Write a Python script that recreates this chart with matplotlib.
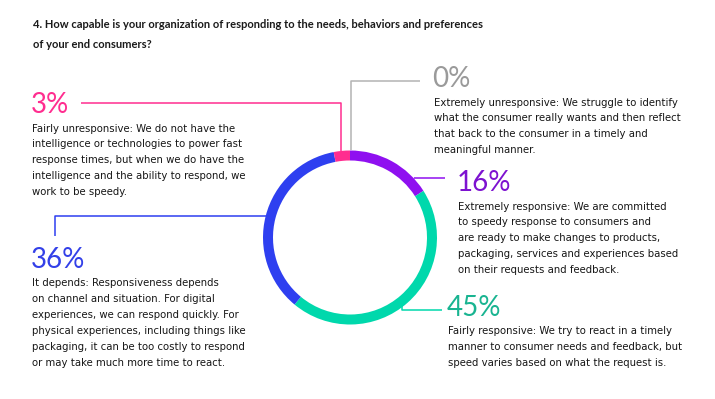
import matplotlib.pyplot as plt

W, H = 715, 399

title = ["4. How capable is your organization of responding to the needs, behaviors and preferences",
         "of your end consumers?"]

# answers, clockwise from 12 o'clock
answers = ["Extremely unresponsive", "Extremely responsive", "Fairly responsive",
           "It depends", "Fairly unresponsive"]
shares = [0, 16, 45, 36, 3]
ring_colors = ["#b3b3b3", "#8f10f0", "#00d8ac", "#2e3ff0", "#ff2d8f"]
pct_colors = ["#9a9a9a", "#7d12d0", "#19b491", "#3340e8", "#ff2d8f"]

descriptions = [
    ["Extremely unresponsive: We struggle to identify",
     "what the consumer really wants and then reflect",
     "that back to the consumer in a timely and",
     "meaningful manner."],
    ["Extremely responsive: We are committed",
     "to speedy response to consumers and",
     "are ready to make changes to products,",
     "packaging, services and experiences based",
     "on their requests and feedback."],
    ["Fairly responsive: We try to react in a timely",
     "manner to consumer needs and feedback, but",
     "speed varies based on what the request is."],
    ["It depends: Responsiveness depends",
     "on channel and situation. For digital",
     "experiences, we can respond quickly. For",
     "physical experiences, including things like",
     "packaging, it can be too costly to respond",
     "or may take much more time to react."],
    ["Fairly unresponsive: We do not have the",
     "intelligence or technologies to power fast",
     "response times, but when we do have the",
     "intelligence and the ability to respond, we",
     "work to be speedy."],
]

# label placement in pixels (x, y of the percentage, from the top)
label_pos = [(432, 79), (457, 183), (447, 308), (31, 260), (31, 105)]
# callout paths in pixels
callouts = [
    [(350.5, 150), (350.5, 81), (420, 81)],
    [(414, 177.5), (445, 177.5)],
    [(401.5, 300), (401.5, 310), (442, 310)],
    [(266, 215.5), (55, 215.5), (55, 236)],
    [(340.5, 151), (340.5, 102.5), (81, 102.5)],
]

cx, cy, r_out, ring_w = 350, 237.5, 87, 10

fig = plt.figure(figsize=(W / 100, H / 100), dpi=100)
ax = fig.add_axes([0, 0, 1, 1])


def Y(y):
    return H - y


ax.pie(shares, colors=ring_colors, startangle=90, counterclock=False,
       radius=r_out, center=(cx, Y(cy)),
       wedgeprops=dict(width=ring_w, linewidth=0))

for path, col in zip(callouts, ring_colors):
    xs = [p[0] for p in path]
    ys = [Y(p[1]) for p in path]
    ax.plot(xs, ys, color=col, lw=1.1, solid_capstyle='butt')

body_font = dict(family=["DejaVu Sans"], fontsize=7.3, color="#161616")
for (x, y), s, col, lines in zip(label_pos, shares, pct_colors, descriptions):
    ax.text(x, Y(y), f"{s}%", fontsize=20, color=col, va="center", ha="left",
            family=["Lato", "DejaVu Sans"], fontweight="normal")
    for i, line in enumerate(lines):
        ax.text(x + 1.5, Y(y + 23.5 + i * 15.9), line, va="center", ha="left", **body_font)

for i, line in enumerate(title):
    ax.text(33, Y(25 + i * 20), line, fontsize=8, fontweight="bold",
            family=["Lato", "DejaVu Sans"], color="#1a1a1a",
            va="center", ha="left")

ax.set_xlim(0, W)
ax.set_ylim(0, H)
ax.set_aspect("auto")
ax.set_axis_off()
fig.savefig("out.png", dpi=100)
